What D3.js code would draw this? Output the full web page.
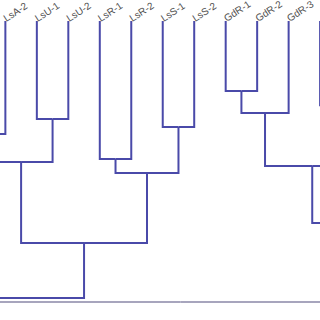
<!DOCTYPE html>
<html>
<head>
<meta charset="utf-8">
<script src="https://cdn.jsdelivr.net/npm/d3@7"></script>
<style>
  html, body { margin: 0; padding: 0; background: #fff; }
  svg { display: block; }
  .link { fill: none; stroke: #4a4aa9; stroke-width: 2; stroke-linejoin: miter; }
  .link.root { stroke: #8a88a8; stroke-width: 1.5; }
  .leaf-label { font-family: "Liberation Sans", Arial, sans-serif; font-size: 10px; fill: #505050; }
</style>
</head>
<body>
<svg id="chart" width="320" height="320"></svg>
<script>
// Leaves in dendrogram order (the picture is a crop; outer leaves fall off the edges).
const leafNames = [
  "LaA-1", "LaA-2", "LaB-1", "LaB-2",
  "LsA-1", "LsA-2", "LsU-1", "LsU-2", "LsR-1", "LsR-2", "LsS-1", "LsS-2",
  "GdR-1", "GdR-2", "GdR-3",
  "GdS-1", "GdS-2", "GdS-3", "GdU-1", "GdU-2"
];

// Agglomeration steps: new cluster name, its two members, merge distance.
const mergeNames = [
  "LaA", "LaB", "La",
  "LsA", "LsU", "LsAU", "LsR", "LsS", "LsRS", "Ls", "L",
  "GdR12", "GdR", "GdS12", "GdS", "GdRS", "GdU", "Gd", "root"
];
const mergeChildren = [
  ["LaA-1", "LaA-2"], ["LaB-1", "LaB-2"], ["LaA", "LaB"],
  ["LsA-1", "LsA-2"], ["LsU-1", "LsU-2"], ["LsA", "LsU"],
  ["LsR-1", "LsR-2"], ["LsS-1", "LsS-2"], ["LsR", "LsS"],
  ["LsAU", "LsRS"], ["La", "Ls"],
  ["GdR-1", "GdR-2"], ["GdR12", "GdR-3"],
  ["GdS-1", "GdS-2"], ["GdS12", "GdS-3"], ["GdR", "GdS"],
  ["GdU-1", "GdU-2"], ["GdRS", "GdU"], ["L", "Gd"]
];
const mergeHeights = [
  42, 45, 62,
  40.2, 34.9, 50.2, 49.1, 37.7, 54.1, 79.0, 98.6,
  24.9, 32.7, 30, 40, 51.6, 55, 71.9, 100
];

const width = 320, height = 320;
const svg = d3.select("#chart");

// Build nested tree from the merge list.
const nodes = new Map(leafNames.map(name => [name, { name, height: 0 }]));
mergeNames.forEach((name, i) => {
  nodes.set(name, {
    name,
    height: mergeHeights[i],
    children: mergeChildren[i].map(c => nodes.get(c))
  });
});
const root = d3.hierarchy(nodes.get("root"));

// Scales: leaves evenly spaced (crop shows LsA-2 .. GdR-3), distance runs downward.
const x = d3.scalePoint()
  .domain(leafNames)
  .range([-152, 446]);
const y = d3.scaleLinear()
  .domain([0, 100])
  .range([21, 302]);

root.eachAfter(d => {
  d.px = d.children ? d3.mean(d.children, c => c.px) : x(d.data.name);
  d.py = y(d.data.height);
});

// Elbow links.
svg.append("g")
  .selectAll("path")
  .data(root.links())
  .join("path")
  .attr("class", d => d.source.depth === 0 ? "link root" : "link")
  .attr("d", d => {
    const p = d3.path();
    p.moveTo(d.target.px, d.target.py);
    p.lineTo(d.target.px, d.source.py);
    p.lineTo(d.source.px, d.source.py);
    return p.toString();
  });

// Leaf labels, rotated; only those that reach into the cropped view.
svg.append("g")
  .selectAll("text")
  .data(root.leaves().filter(d => d.px > -30 && d.px < width))
  .join("text")
  .attr("class", "leaf-label")
  .attr("transform", d => `translate(${d.px + 1},${d.py + 1}) rotate(-33)`)
  .text(d => d.data.name);
</script>
</body>
</html>
